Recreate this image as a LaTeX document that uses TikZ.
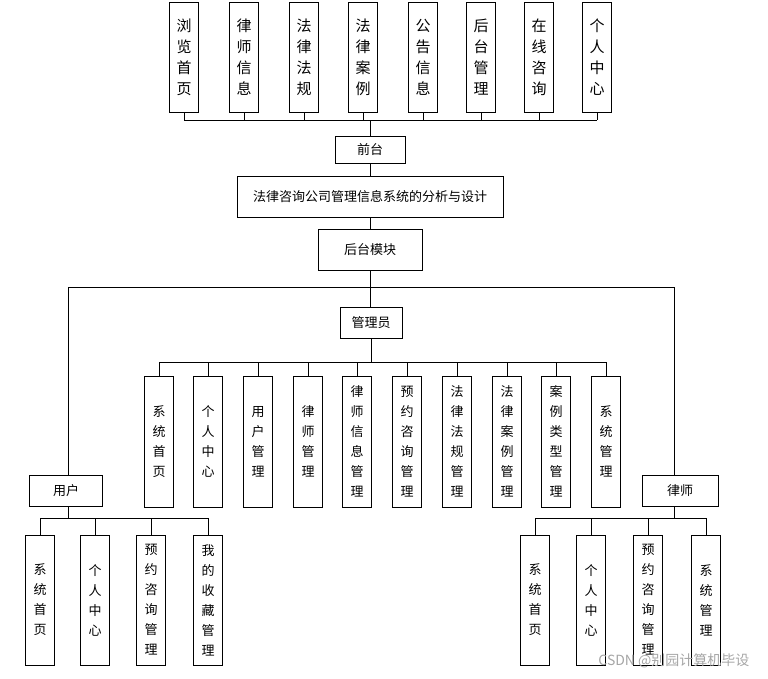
\documentclass[tikz,border=0pt]{standalone}
\usepackage{fontspec}
\setmainfont{Noto Sans CJK SC}
\begin{document}
\begin{tikzpicture}[x=1pt,y=-1pt,
 box/.style={draw,line width=0.8pt,fill=white,inner sep=0pt,font=\fontsize{13}{20}\selectfont,align=center},
 vb/.style={box,minimum width=29pt},
 ln/.style={line width=0.8pt}]
\useasboundingbox (0,0) rectangle (768,679);
% top
\foreach \x/\t [count=\i] in {184/浏\\览\\首\\页,244/律\\师\\信\\息,304/法\\律\\法\\规,363/法\\律\\案\\例,423/公\\告\\信\\息,481/后\\台\\管\\理,539/在\\线\\咨\\询,597/个\\人\\中\\心}
  \node[vb,minimum height=110pt,font=\fontsize{15}{21}\selectfont] (t\i) at (\x,57) {\t};
\node[box,minimum width=70pt,minimum height=27pt] (qt) at (370,150) {前台};
\node[box,minimum width=266pt,minimum height=41pt] (sys) at (370,197) {法律咨询公司管理信息系统的分析与设计};
\node[box,minimum width=104pt,minimum height=41pt] (ht) at (370,250) {后台模块};
\node[box,minimum width=62pt,minimum height=31pt] (gly) at (371,323) {管理员};
\node[box,minimum width=73pt,minimum height=31pt] (yh) at (66,491) {用户};
\node[box,minimum width=76pt,minimum height=31pt] (ls) at (680,491) {律师};
\foreach \i in {1,...,8} \draw[ln] (t\i.south) -- (t\i.south|-0,120);
\draw[ln] (t1.south|-0,120) -- (t8.south|-0,120);
\draw[ln] (qt.north) -- (qt.north|-0,120);
\draw[ln] (qt) -- (sys);
\draw[ln] (sys) -- (ht);
\draw[ln] (ht.south) -- (370,287);
\draw[ln] (yh.north-|68,0) -- (68,287) -- (674,287) -- (ls.north-|674,0);
\draw[ln] (370,287) -- (gly.north-|370,0);
% admin
\foreach \x/\t [count=\i] in {159/系\\统\\首\\页,208/个\\人\\中\\心,258/用\\户\\管\\理,308/律\\师\\管\\理,357/律\\师\\信\\息\\管\\理,407/预\\约\\咨\\询\\管\\理,457/法\\律\\法\\规\\管\\理,507/法\\律\\案\\例\\管\\理,556/案\\例\\类\\型\\管\\理,606/系\\统\\管\\理}
  \node[vb,minimum height=131pt] (a\i) at (\x,441.5) {\t};
\draw[ln] (gly.south) -- (371,362);
\draw[ln] (a1.north|-0,362) -- (a10.north|-0,362);
\foreach \i in {1,...,10} \draw[ln] (a\i.north) -- (a\i.north|-0,362);
% user
\foreach \x/\t [count=\i] in {40/系\\统\\首\\页,95/个\\人\\中\\心,151/预\\约\\咨\\询\\管\\理,208/我\\的\\收\\藏\\管\\理}
  \node[vb,minimum height=130pt] (u\i) at (\x,600) {\t};
\draw[ln] (yh.south-|68,0) -- (68,518);
\draw[ln] (u1.north|-0,518) -- (u4.north|-0,518);
\foreach \i in {1,...,4} \draw[ln] (u\i.north) -- (u\i.north|-0,518);
% lawyer
\foreach \x/\t [count=\i] in {535/系\\统\\首\\页,591/个\\人\\中\\心,648/预\\约\\咨\\询\\管\\理,706/系\\统\\管\\理}
  \node[vb,minimum height=130pt] (l\i) at (\x,600) {\t};
\draw[ln] (ls.south-|674,0) -- (674,518);
\draw[ln] (l1.north|-0,518) -- (l4.north|-0,518);
\foreach \i in {1,...,4} \draw[ln] (l\i.north) -- (l\i.north|-0,518);
\node[text=gray!70,font=\fontsize{14}{15}\selectfont,anchor=east] (wm) at (753,661) {CSDN @别园计算机毕设};
\end{tikzpicture}
\end{document}
